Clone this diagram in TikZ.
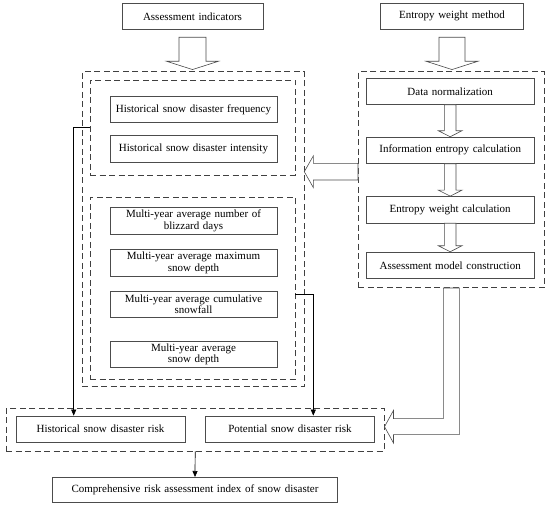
\documentclass[tikz,border=0pt]{standalone}
\usepackage{fontspec}
\setmainfont{Liberation Serif}
\usetikzlibrary{arrows.meta,calc}

\tikzset{
  box/.style={draw=black!70, line width=0.6pt, minimum height=26.5pt, inner xsep=0pt,
    inner ysep=1pt, text width=#1, align=center, font=\fontsize{11}{11.5}\selectfont},
  group/.style={draw=black!75, line width=0.6pt, dash pattern=on 6pt off 3.5pt, inner sep=0pt},
  hollow/.style={draw=black!70, line width=0.6pt, fill=white, line join=miter},
  link/.style={draw=black, line width=0.7pt, -{Triangle[length=6pt,width=5pt]}},
}

\begin{document}
\begin{tikzpicture}[x=1pt, y=-1pt]
  \useasboundingbox (0,0) rectangle (550,508);

  % Cajas superiores
  \node[box=141pt] (ai) at (192.5,16.3) {Assessment indicators};
  \node[box=143pt] (ewm) at (452,16.3) {Entropy weight method};

  % Grupos con borde punteado
  \node[group, minimum width=222pt, minimum height=315pt] (outer) at (193,229.3) {};
  \node[group, minimum width=205pt, minimum height=95pt] (hist) at (192.5,127.5) {};
  \node[group, minimum width=205pt, minimum height=182pt] (pot) at (192.5,288.3) {};
  \node[group, minimum width=186pt, minimum height=216pt] (steps) at (451.3,179.7) {};
  \node[group, minimum width=378pt, minimum height=42.7pt] (risk) at (195.2,429.7) {};

  % Indicadores
  \node[box=167pt] (freq) at (193.5,109.5) {Historical snow disaster frequency};
  \node[box=167pt] (inten) at (193.5,149) {Historical snow disaster intensity};
  \node[box=167pt] (days) at (193.5,220.7) {Multi-year average number of\\blizzard days};
  \node[box=167pt] (maxd) at (193.5,262.7) {Multi-year average maximum\\snow depth};
  \node[box=167pt] (cumf) at (193.5,304.3) {Multi-year average cumulative\\snowfall};
  \node[box=167pt] (avgd) at (193.5,354.3) {Multi-year average\\snow depth};

  % Pasos del metodo de entropia
  \node[box=168pt] (norm) at (450.2,91.3) {Data normalization};
  \node[box=168pt] (entr) at (450.2,150.3) {Information entropy calculation};
  \node[box=168pt] (wcalc) at (450.2,209.7) {Entropy weight calculation};
  \node[box=168pt] (model) at (450.2,265.3) {Assessment model construction};

  % Riesgos e indice final
  \node[box=169pt] (hrisk) at (100.5,429.2) {Historical snow disaster risk};
  \node[box=169pt] (prisk) at (290,429.2) {Potential snow disaster risk};
  \node[box=285pt, minimum height=25.4pt] (comp) at (195,490)
    {Comprehensive risk assessment index of snow disaster};

  % Flechas huecas superiores
  \draw[hollow] ([xshift=-13.5pt,yshift=-7.4pt]ai.south) -- ++(0,24) -- ++(-12.5,0)
    -- ++(26,8.3) -- ++(26,-8.3) -- ++(-12.5,0) -- ++(0,-24) -- cycle;
  \draw[hollow] ([xshift=-13pt,yshift=-7.4pt]ewm.south) -- ++(0,24) -- ++(-13,0)
    -- ++(26,8.3) -- ++(26,-8.3) -- ++(-13,0) -- ++(0,-24) -- cycle;

  % Flechas huecas entre pasos
  \foreach \a/\b in {norm/entr, entr/wcalc, wcalc/model}
    \draw[hollow] let \p1=(\a.south), \p2=(\b.north) in
      (\x1-5.8pt,\y1) -- (\x1-5.8pt,\y2+6pt) -- (\x1-11.8pt,\y2+6pt) -- (\x1,\y2)
      -- (\x1+11.8pt,\y2+6pt) -- (\x1+5.8pt,\y2+6pt) -- (\x1+5.8pt,\y1) -- cycle;

  % Flecha hueca hacia los indicadores
  \draw[hollow] let \p1=([yshift=8pt]steps.west), \p2=(outer.east) in
    (\x1,\y1+8.3pt) -- (\x2+9pt,\y1+8.3pt) -- (\x2+9pt,\y1+15.8pt) -- (\x2,\y1)
    -- (\x2+9pt,\y1-15.8pt) -- (\x2+9pt,\y1-8.3pt) -- (\x1,\y1-8.3pt) -- cycle;

  % Flecha hueca en L hacia los riesgos
  \draw[hollow] let \p1=(steps.south), \p2=([yshift=3pt]risk.east) in
    (\x1-8pt,\y1) -- (\x1-8pt,\y2+8pt) -- (\x2+9pt,\y2+8pt) -- (\x2+9pt,\y2+16.3pt)
    -- (\x2,\y2) -- (\x2+9pt,\y2-16.3pt) -- (\x2+9pt,\y2-8pt) -- (\x1+8pt,\y2-8pt)
    -- (\x1+8pt,\y1) -- cycle;

  % Conectores
  \draw[link] (hist.west) -- ++(-16,0) coordinate (hk) -- (hk |- hrisk.north);
  \draw[link] ([yshift=-6pt]pot.east) -- ++(18,0) coordinate (pk) -- (pk |- prisk.north);
  \draw[link] (risk.south) -- (comp.north);
\end{tikzpicture}
\end{document}
